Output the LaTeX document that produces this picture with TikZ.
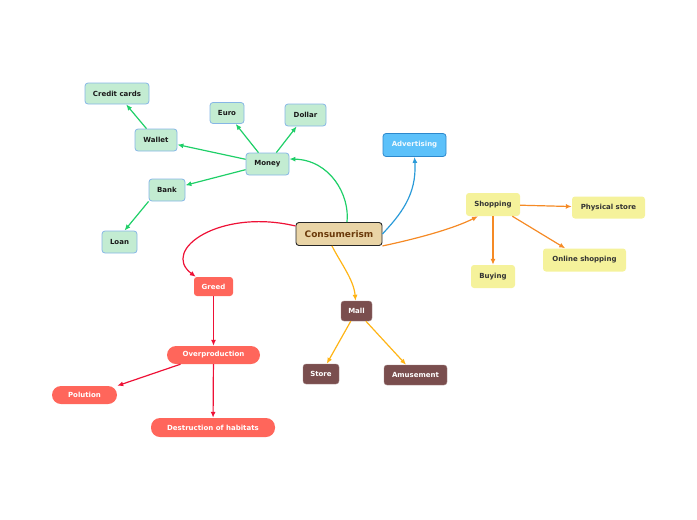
\documentclass[tikz,border=0pt]{standalone}
\usepackage{fontspec}
\setmainfont{DejaVu Sans}
\usetikzlibrary{arrows.meta}
\definecolor{mgreen}{HTML}{C3ECD2}
\definecolor{mborder}{HTML}{86B6E6}
\definecolor{gline}{HTML}{1FCF68}
\definecolor{advfill}{HTML}{5CC1FA}
\definecolor{advborder}{HTML}{2D88CC}
\definecolor{bline}{HTML}{2A9AD8}
\definecolor{consfill}{HTML}{E9D4A6}
\definecolor{constext}{HTML}{6B3A0B}
\definecolor{yfill}{HTML}{F5F29B}
\definecolor{oline}{HTML}{F58A25}
\definecolor{rfill}{HTML}{FF665B}
\definecolor{rline}{HTML}{EE1136}
\definecolor{mallfill}{HTML}{7A4E4E}
\definecolor{yline}{HTML}{FFB415}
\begin{document}
\begin{tikzpicture}[x=1pt,y=-1pt,
  box/.style={rounded corners=3pt, inner sep=0pt, font=\bfseries\fontsize{7}{8}\selectfont, align=center},
  gbox/.style={box, fill=mgreen, draw=mborder, line width=0.8pt, text=black!90},
  advbox/.style={box, fill=advfill, draw=advborder, line width=0.8pt, text=white!92!advfill},
  consbox/.style={box, fill=consfill, draw=black!85, line width=0.9pt, text=constext, font=\bfseries\fontsize{9}{10}\selectfont},
  ybox/.style={box, fill=yfill, text=black!80},
  rbox/.style={box, fill=rfill, text=white},
  pill/.style={rbox, rounded corners=9pt},
  mbox/.style={box, fill=mallfill, text=white, draw=mallfill!70!white, line width=0.4pt},
  con/.style={line width=1.2pt, -{Latex[length=6pt,width=5pt]}},
]
\useasboundingbox (0,0) rectangle (697,520);

% Money group
\node[gbox, minimum width=64pt, minimum height=21pt] (credit) at (117,93.5) {Credit cards};
\node[gbox, minimum width=34pt, minimum height=21pt] (euro) at (227,113) {Euro};
\node[gbox, minimum width=41pt, minimum height=22pt] (dollar) at (305.5,115) {Dollar};
\node[gbox, minimum width=42pt, minimum height=22pt] (wallet) at (156,140) {Wallet};
\node[gbox, minimum width=43pt, minimum height=22pt] (money) at (267.5,164) {Money};
\node[gbox, minimum width=36pt, minimum height=22pt] (bank) at (167,190) {Bank};
\node[gbox, minimum width=35pt, minimum height=22pt] (loan) at (119.5,242) {Loan};

% Center
\node[consbox, minimum width=86pt, minimum height=23pt] (cons) at (339,234) {Consumerism};
\node[advbox, minimum width=63pt, minimum height=23pt] (adv) at (414.5,145) {Advertising};

% Shopping group
\node[ybox, minimum width=54pt, minimum height=23pt] (shop) at (493,204.5) {Shopping};
\node[ybox, minimum width=73pt, minimum height=22pt] (phys) at (608.5,207.5) {Physical store};
\node[ybox, minimum width=83pt, minimum height=23pt] (online) at (584.5,260) {Online shopping};
\node[ybox, minimum width=44pt, minimum height=23pt] (buying) at (493,276.5) {Buying};

% Red group
\node[rbox, minimum width=39pt, minimum height=19pt] (greed) at (213.5,286.5) {Greed};
\node[pill, minimum width=93pt, minimum height=18pt] (over) at (213.5,355) {Overproduction};
\node[pill, minimum width=65pt, minimum height=18pt] (pol) at (84.5,395) {Polution};
\node[pill, minimum width=124pt, minimum height=19pt] (destr) at (213,427.5) {Destruction of habitats};

% Mall group
\node[mbox, minimum width=31pt, minimum height=20pt] (mall) at (356.5,311) {Mall};
\node[mbox, minimum width=36pt, minimum height=20pt] (store) at (321,374) {Store};
\node[mbox, minimum width=63pt, minimum height=20pt] (amuse) at (415.5,375) {Amusement};

% Green connectors
\draw[con, gline] ([xshift=8pt]cons.north) .. controls (350,195) and (330,160) .. ([yshift=5pt]money.east);
\draw[con, gline] (money) -- (euro);
\draw[con, gline] (money) -- (dollar);
\draw[con, gline] (money) -- (wallet);
\draw[con, gline] (money) -- (bank);
\draw[con, gline] (wallet) -- (credit);
\draw[con, gline] (bank.south west) -- ([xshift=5pt]loan.north);

% Blue connector
\draw[con, bline] (cons.east) .. controls (400,215) and (417,195) .. (adv.south);

% Orange connectors
\draw[con, oline] (cons.south east) .. controls (420,238) and (455,228) .. ([xshift=-15pt]shop.south);
\draw[con, oline] (shop) -- (phys);
\draw[con, oline] (shop) -- (online);
\draw[con, oline] (shop) -- (buying);

% Red connectors
\draw[con, rline] ([yshift=8pt]cons.west) .. controls (220,208) and (160,250) .. ([xshift=2pt]greed.north west);
\draw[con, rline] (greed) -- (over);
\draw[con, rline] ([xshift=-33pt]over.south) -- (pol.north east);
\draw[con, rline] (over) -- (destr);

% Yellow connectors
\draw[con, yline] ([xshift=-7pt]cons.south) .. controls (340,262) and (354,280) .. ([xshift=-1pt]mall.north);
\draw[con, yline] (mall) -- (store);
\draw[con, yline] (mall) -- (amuse);
\end{tikzpicture}
\end{document}
